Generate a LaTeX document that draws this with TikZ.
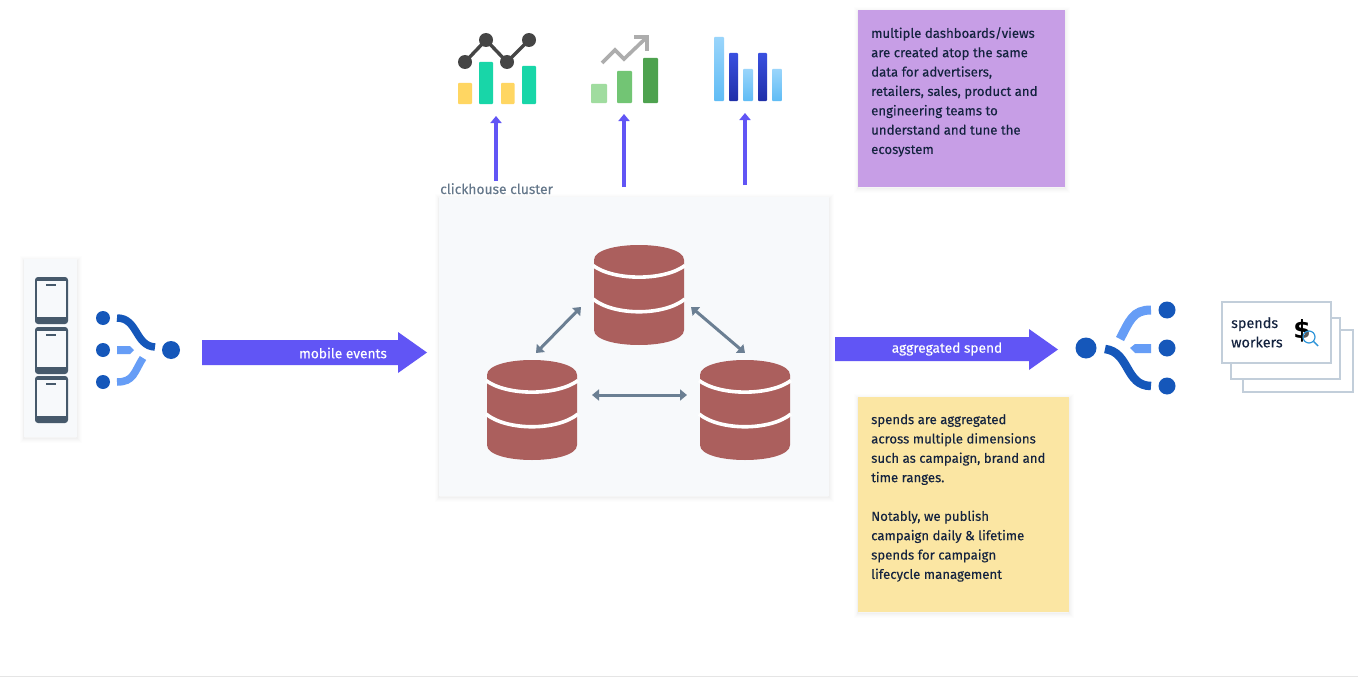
\documentclass[tikz,border=0pt]{standalone}
\usepackage{fontspec}
\setmainfont[FakeBold=0.12]{Fira Sans}
\newfontfamily\dollarfont{DejaVu Sans Bold}
\usetikzlibrary{arrows.meta,shadows}
\definecolor{panel}{HTML}{F7F9FB}
\definecolor{phonec}{HTML}{46596B}
\definecolor{deepb}{HTML}{1557BA}
\definecolor{lightb}{HTML}{669DF6}
\definecolor{violet}{HTML}{6155F5}
\definecolor{slatec}{HTML}{6B7F93}
\definecolor{dbred}{HTML}{AB5F5D}
\definecolor{notep}{HTML}{C79EE6}
\definecolor{notey}{HTML}{FBE6A3}
\definecolor{inkc}{HTML}{14233F}
\definecolor{cardc}{HTML}{C2CEDA}
\definecolor{lblc}{HTML}{64778A}
\tikzset{
  softshadow/.style={
    preaction={draw=black,draw opacity=.006,line width=9pt,transform canvas={yshift=-1.5pt}},
    preaction={draw=black,draw opacity=.008,line width=7pt,transform canvas={yshift=-1.5pt}},
    preaction={draw=black,draw opacity=.010,line width=5pt,transform canvas={yshift=-1.5pt}},
    preaction={draw=black,draw opacity=.012,line width=3pt,transform canvas={yshift=-1.5pt}},
    preaction={draw=black,draw opacity=.014,line width=1.5pt,transform canvas={yshift=-1.5pt}}},
  panelbox/.style={fill=panel,softshadow,outer sep=0pt},
  note/.style={anchor=north west,inner sep=0pt,outer sep=0pt,softshadow},
  notetext/.style={anchor=north west,inner sep=0pt,align=left,text=inkc,font=\fontsize{13.2}{19.35}\selectfont},
  biglabel/.style={text=white,font=\fontsize{13.7}{16}\selectfont},
  cardbox/.style={draw=cardc,line width=1.7pt,fill=white,anchor=north west,inner sep=0pt,outer sep=0pt},
  upconn/.style={draw=violet,line width=3.3pt,-{Triangle[length=7pt,width=11pt]}},
  dbconn/.style={draw=slatec,line width=3pt,{Triangle[length=7pt,width=11pt]}-{Triangle[length=7pt,width=11pt]}},
  pt/.style={circle,fill=deepb,inner sep=0pt},
  dbcyl/.pic={
    \fill[dbred] (-45,15) -- (-45,85) .. controls (-45,105) and (45,105) .. (45,85) -- (45,15)
       .. controls (45,-5) and (-45,-5) .. (-45,15) -- cycle;
    \draw[white,line width=3.6pt] (-46,20.5) .. controls (-25,36) and (25,36) .. (46,20.5);
    \draw[white,line width=3.6pt] (-46,54) .. controls (-25,71) and (25,71) .. (46,54);
  },
  phone/.pic={
    \fill[phonec,rounded corners=3pt] (0,0) rectangle (33,47);
    \fill[panel] (2,4) rectangle (31,40);
    \fill[phonec] (11,7.3) rectangle (21,8.9);
  }
}
\begin{document}
\begin{tikzpicture}[x=1pt,y=-1pt]
\useasboundingbox (0,0) rectangle (1358,677);
\fill[white] (0,0) rectangle (1358,677);
\fill[black!10] (0,676) rectangle (1358,677);

% phones
\node[panelbox,anchor=north west,minimum width=53pt,minimum height=178pt,inner sep=0pt] (phones) at (24,259) {};
\pic at (35,277) {phone};
\pic at (35,327) {phone};
\pic at (35,376) {phone};

% fan in
\node[pt,minimum size=14pt] (i1) at (103,318) {};
\node[pt,minimum size=14pt] (i2) at (103,350) {};
\node[pt,minimum size=14pt] (i3) at (103,382) {};
\node[pt,minimum size=18pt] (i4) at (171,350) {};
\draw[deepb,line width=7.5pt] (117,318) .. controls (138,318) and (135,346) .. (155,347);
\fill[lightb] (117,346) -- (130,346) -- (134,350) -- (130,354) -- (117,354) -- cycle;
\draw[lightb,line width=7.5pt] (117,382) .. controls (134,382) and (134,372) .. (143,358);

% big arrows
\fill[violet] (202,340) -- (398,340) -- (398,332) -- (427,352.5) -- (398,373) -- (398,365) -- (202,365) -- cycle;
\node[biglabel] (mobile) at (343,353) {mobile events};
\fill[violet] (835,337) -- (1029,337) -- (1029,329) -- (1058,349.5) -- (1029,370) -- (1029,361) -- (835,361) -- cycle;
\node[biglabel] (aggr) at (947,349) {aggregated spend};

% cluster
\node[panelbox,anchor=north west,minimum width=390pt,minimum height=299pt,inner sep=0pt] (cluster) at (439,197) {};
\node[anchor=base west,inner sep=0pt,text=lblc,font=\fontsize{13.8}{16}\selectfont] (clabel) at (440,194) {clickhouse cluster};
\pic at (639,245) {dbcyl};
\pic at (532,360) {dbcyl};
\pic at (745,360) {dbcyl};
\coordinate (a1) at (536,353); \coordinate (a2) at (581,307);
\coordinate (b1) at (691,307); \coordinate (b2) at (745,353);
\coordinate (c1) at (592,395); \coordinate (c2) at (687,395);
\draw[dbconn] (a1) -- (a2);
\draw[dbconn] (b1) -- (b2);
\draw[dbconn] (c1) -- (c2);

% up arrows
\coordinate (u1) at (496,181); \coordinate (v1) at (496,116);
\coordinate (u2) at (624,187); \coordinate (v2) at (624,114);
\coordinate (u3) at (745,185); \coordinate (v3) at (745,113);
\draw[upconn] (u1) -- (v1);
\draw[upconn] (u2) -- (v2);
\draw[upconn] (u3) -- (v3);

% chart 1
\draw[black!73,line width=3.4pt] (465,62) -- (486,40) -- (507,62) -- (529,40);
\foreach \x/\y in {465/62,486/40,507/62,529/40} \fill[black!73] (\x,\y) circle (7);
\fill[rounded corners=.8pt,fill={rgb,255:red,255;green,214;blue,98}] (458,83) rectangle (472,104);
\fill[rounded corners=.8pt,fill={rgb,255:red,24;green,214;blue,168}] (479,62) rectangle (493,104);
\fill[rounded corners=.8pt,fill={rgb,255:red,255;green,214;blue,98}] (501,83) rectangle (514.5,104);
\fill[rounded corners=.8pt,fill={rgb,255:red,24;green,214;blue,168}] (522,66) rectangle (536,104);

% chart 2
\fill[rounded corners=.8pt,fill={rgb,255:red,160;green,220;blue,159}] (591,84) rectangle (607,103);
\fill[rounded corners=.8pt,fill={rgb,255:red,114;green,197;blue,116}] (617,71) rectangle (632,103);
\fill[rounded corners=.8pt,fill={rgb,255:red,78;green,162;blue,79}] (643,58) rectangle (658,103);
\draw[black!32,line width=3.6pt] (602,63) -- (615,50) -- (624,59) -- (647,37);
\draw[black!32,line width=3.6pt] (634,37) -- (647,37) -- (647,51);

% chart 3
\foreach \xa/\xb/\yt/\cta/\ctb in {714/724/37/9AD5FB/5FBCF5,743/753/69/9AD5FB/5FBCF5,772/782/69/9AD5FB/5FBCF5,729/738/53/3A50E0/1F2FA8,758/767/53/3A50E0/1F2FA8}{
  \definecolor{cta}{HTML}{\cta}\definecolor{ctb}{HTML}{\ctb}
  \shade[top color=cta,bottom color=ctb,rounded corners=.8pt] (\xa,\yt) rectangle (\xb,101);
}

% notes
\node[note,fill=notep,minimum width=207pt,minimum height=177pt] (purple) at (858,10) {};
\node[notetext] (purpletxt) at (871,27) {multiple dashboards/views\\are created atop the same\\data for advertisers,\\retailers, sales, product and\\engineering teams to\\understand and tune the\\ecosystem};
\node[note,fill=notey,minimum width=211pt,minimum height=215pt] (yellow) at (858,397) {};
\node[notetext] (yellowtxt) at (871,414) {spends are aggregated\\across multiple dimensions\\such as campaign, brand and\\time ranges.\\[19.35pt]Notably, we publish\\campaign daily \& lifetime\\spends for campaign\\lifecycle management};

% fan out
\node[pt,minimum size=17pt] (o1) at (1167,310) {};
\node[pt,minimum size=17pt] (o2) at (1167,348) {};
\node[pt,minimum size=17pt] (o3) at (1167,386) {};
\node[pt,minimum size=21pt] (o4) at (1086,348) {};
\draw[deepb,line width=8.5pt] (1105,349) .. controls (1130,352) and (1125,386) .. (1151,386);
\fill[lightb] (1151,344) -- (1135,344) -- (1130,348) -- (1135,353) -- (1151,353) -- cycle;
\draw[lightb,line width=9pt] (1151,310) .. controls (1133,310) and (1130,320) .. (1120,339);

% cards
\node[cardbox,minimum width=110pt,minimum height=62pt] (card3) at (1243,330) {};
\node[cardbox,minimum width=109pt,minimum height=61pt] (card2) at (1231,318) {};
\node[cardbox,minimum width=109pt,minimum height=61pt] (card1) at (1222,302) {};
\node[notetext,font=\fontsize{14.4}{19.35}\selectfont] (cardtxt) at (1231,317) {spends\\workers};
\node[font=\fontsize{25}{25}\dollarfont,text=black,inner sep=0pt] (dollar) at (1302,331) {\$};
\draw[cyan!70!blue!85,line width=1.2pt,fill=white,fill opacity=.35] (1309,337) circle (6);
\draw[cyan!70!blue!85,line width=1.4pt] (1313.5,341.5) -- (1318,346);
\end{tikzpicture}
\end{document}
